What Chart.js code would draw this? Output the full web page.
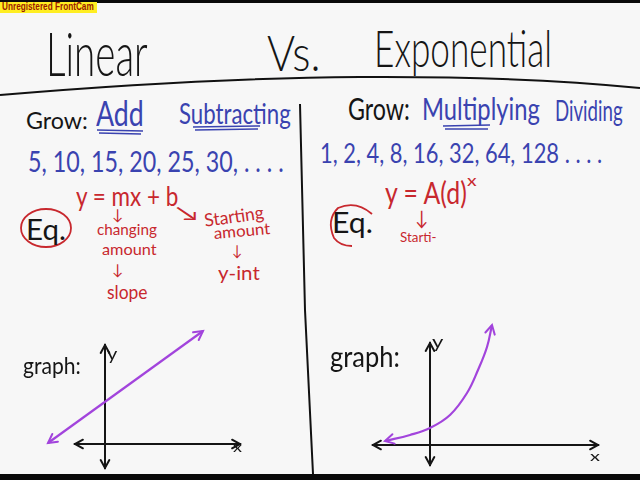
<!DOCTYPE html>
<html>
<head>
<meta charset="utf-8">
<script src="https://cdn.jsdelivr.net/npm/chart.js@4.4.1/dist/chart.umd.min.js"></script>
<style>
  html, body { margin:0; padding:0; }
  body { width:640px; height:480px; background:#f7f7f7; position:relative; overflow:hidden; font-family:Lato, "Open Sans", sans-serif; }
  canvas { position:absolute; }
  .bar { position:absolute; left:0; width:640px; background:#0a0a0a; }
  #tag { position:absolute; left:0; top:2px; width:97px; height:11px; background:#ffee22; overflow:hidden; font-family:"Liberation Sans", Arial, sans-serif; }
  svg { position:absolute; left:0; top:0; }
</style>
</head>
<body>
<div class="bar" style="top:0;height:3px"></div>
<div class="bar" style="top:474px;height:6px"></div>
<div id="tag"></div>

<svg width="640" height="480">
  <!-- title rule -->
  <path d="M0 95 Q 200 78 360 77 T 640 88" stroke="#111" stroke-width="2" fill="none"/>
  <!-- divider -->
  <path d="M300 104 L305 310 L313 474" stroke="#111" stroke-width="2" fill="none"/>
  <!-- Eq. circles -->
  <ellipse cx="46" cy="228" rx="25" ry="19" stroke="#c8282e" stroke-width="1.8" fill="none"/>
  <path d="M372 214 Q 356 200 338 208 Q 326 220 334 238 Q 340 246 352 246" stroke="#c8282e" stroke-width="1.8" fill="none"/>
  <!-- underlines -->
  <path d="M97 130 L143 131 M99 133 L141 134" stroke="#3a43b0" stroke-width="1.5" fill="none"/>
  <path d="M193 127 L260 126 M195 130 L258 129" stroke="#3a43b0" stroke-width="1.5" fill="none"/>
  <path d="M443 126 L490 125 M445 129 L488 129" stroke="#3a43b0" stroke-width="1.5" fill="none"/>
</svg>

<canvas id="linChart" width="220" height="160" style="left:40px;top:320px"></canvas>
<canvas id="expChart" width="270" height="175" style="left:350px;top:300px"></canvas>

<script>
// sequences written on the board
const addSeq = [5, 10, 15, 20, 25, 30];
const mulSeq = [1, 2, 4, 8, 16, 32, 64, 128];

// linear graph (purple line)
const linX = [-2.85, 4.9];
const linY = [0.05, 5.65];
const linXRange = [-1.5, 6.75];
const linYRange = [-1.2, 4.95];

// exponential graph (purple curve)
const expX = [-2.25, -1.0, 0, 1.0, 1.85, 2.4, 2.85, 3.1];
const expY = [0.2, 0.5, 0.85, 1.5, 2.6, 3.75, 4.9, 6.0];
const expXRange = [-2.85, 8.4];
const expYRange = [-1, 5.1];

const ink = '#151515';
const blue = '#3a43b0';
const red = '#c8282e';
const purple = '#a244dc';

// text helper - fits the text to the width it has on the board
function label(txt, x, y, size, w, color, rot, weight, parent) {
    const s = document.createElement('span');
    s.textContent = txt;
    s.style.cssText = 'position:absolute;white-space:nowrap;line-height:1;transform-origin:0 0;'
        + 'left:' + x + 'px;top:' + (y - size * 0.17) + 'px;font-size:' + size + 'px;color:' + color + ';'
        + 'font-weight:' + (weight || 400) + ';';
    (parent || document.body).appendChild(s);
    const k = w / s.offsetWidth;
    s.style.transform = (rot ? 'rotate(' + rot + 'deg) ' : '') + 'scaleX(' + k + ')';
    return s;
}

label('Unregistered FrontCam', 2, 2, 10, 92, '#9a1a00', 0, 700, document.getElementById('tag'));

// title
label('Linear', 46, 32, 62, 102, ink, 0, 300);
label('Vs.', 267, 35, 50, 54, ink, 0, 300);
label('Exponential', 374, 30, 52, 178, ink, 0, 300);

// left side
label('Grow:', 26, 112, 24, 62, ink);
label('Add', 96, 102, 34, 48, blue);
label('Subtracting', 179, 104, 28, 112, blue);
label(addSeq.join(', ') + ', . . . .', 28, 152, 28, 256, blue);
label('y = mx + b', 76, 187, 26, 102, red);
label('Eq.', 26, 220, 28, 40, ink);
label('↓', 112, 210, 15, 11, red);
label('changing', 97, 224, 16, 60, red);
label('amount', 102, 244, 16, 55, red);
label('↓', 112, 265, 15, 11, red);
label('slope', 107, 284, 20, 41, red);
label('↘', 176, 205, 20, 22, red);
label('Starting', 203, 214, 18, 60, red, -8);
label('amount', 213, 228, 16, 57, red, -5);
label('↓', 232, 246, 15, 10, red);
label('y-int', 218, 265, 20, 42, red);
label('graph:', 23, 357, 24, 58, ink);
label('y', 107, 347, 18, 10, ink);
label('x', 233, 442, 14, 9, ink);

// right side
label('Grow:', 348, 98, 30, 62, ink);
label('Multiplying', 422, 98, 30, 118, blue);
label('Dividing', 555, 101, 28, 68, blue);
label(mulSeq.join(', ') + ' . . . .', 320, 144, 26, 282, blue);
label('y = A(d)', 385, 182, 30, 82, red);
label('x', 467, 176, 15, 9, red);
label('Eq.', 332, 213, 28, 41, ink);
label('↓', 415, 210, 20, 13, red);
label('Starti-', 400, 233, 13, 36, red);
label('graph:', 330, 347, 28, 70, ink);
label('y', 432, 335, 18, 11, ink);
label('x', 590, 451, 14, 10, ink);

// arrow heads on both axes and both ends of the purple lines
function head(ctx, px, py, ang, size) {
    ctx.beginPath();
    ctx.moveTo(px - size * Math.cos(ang - 0.5), py - size * Math.sin(ang - 0.5));
    ctx.lineTo(px, py);
    ctx.lineTo(px - size * Math.cos(ang + 0.5), py - size * Math.sin(ang + 0.5));
    ctx.stroke();
}

const arrows = {
    id: 'arrows',
    afterDraw(chart) {
        const ctx = chart.ctx;
        const xs = chart.scales.x, ys = chart.scales.y;
        const x0 = xs.getPixelForValue(0), y0 = ys.getPixelForValue(0);
        ctx.save();
        ctx.lineCap = 'round';
        ctx.strokeStyle = ink;
        ctx.lineWidth = 2;
        head(ctx, xs.left, y0, Math.PI, 9);
        head(ctx, xs.right, y0, 0, 9);
        head(ctx, x0, ys.top, -Math.PI / 2, 9);
        head(ctx, x0, ys.bottom, Math.PI / 2, 9);
        chart.data.datasets.forEach((ds, i) => {
            const p = chart.getDatasetMeta(i).data;
            const a = p[0], b = p[1], c = p[p.length - 1], d = p[p.length - 2];
            ctx.strokeStyle = ds.borderColor;
            head(ctx, a.x, a.y, Math.atan2(a.y - b.y, a.x - b.x), 10);
            head(ctx, c.x, c.y, Math.atan2(c.y - d.y, c.x - d.x), 10);
        });
        ctx.restore();
    }
};

function axisOpts(range, pos) {
    return {
        type: 'linear',
        min: range[0],
        max: range[1],
        position: pos,
        grid: { display: false, drawTicks: false },
        ticks: { display: false },
        border: { display: true, color: ink, width: 2 }
    };
}

function sketchChart(id, xv, yv, xr, yr, pad, curved) {
    return new Chart(document.getElementById(id), {
        type: 'scatter',
        data: {
            datasets: [{
                data: xv.map((v, i) => ({ x: v, y: yv[i] })),
                showLine: true,
                borderColor: purple,
                borderWidth: 2.2,
                pointRadius: 0,
                tension: curved ? 0.4 : 0,
                clip: false
            }]
        },
        options: {
            responsive: false,
            animation: false,
            layout: { padding: pad },
            plugins: { legend: { display: false }, tooltip: { enabled: false } },
            scales: {
                x: axisOpts(xr, { y: 0 }),
                y: axisOpts(yr, { x: 0 })
            }
        },
        plugins: [arrows]
    });
}

sketchChart('linChart', linX, linY, linXRange, linYRange, { left: 35, right: 20, top: 25, bottom: 12 }, false);
sketchChart('expChart', expX, expY, expXRange, expYRange, { left: 23, right: 22, top: 43, bottom: 10 }, true);
</script>
</body>
</html>
